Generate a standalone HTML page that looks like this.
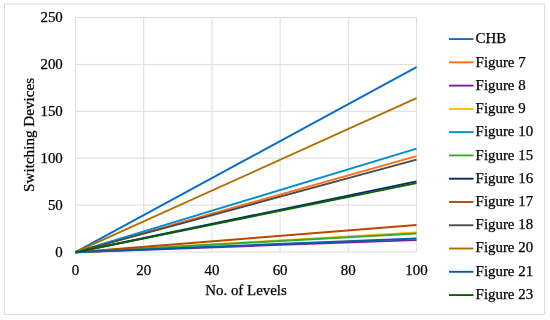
<!DOCTYPE html><html><head><meta charset="utf-8"><style>html,body{margin:0;padding:0;background:#fff;}svg{display:block;filter:blur(0.3px);}text{font-family:"Liberation Serif", "Times New Roman", serif;fill:#000;stroke:#000;stroke-width:0.25px;}</style></head><body>
<svg width="550" height="320" viewBox="0 0 550 320">
<rect x="0" y="0" width="550" height="320" fill="#fff"/>
<rect x="4.5" y="4.0" width="540" height="310.5" fill="none" stroke="#dcdcdc" stroke-width="1"/>
<line x1="75.50" y1="252.00" x2="416.50" y2="252.00" stroke="#dcdcdc" stroke-width="1"/>
<line x1="75.50" y1="205.10" x2="416.50" y2="205.10" stroke="#dcdcdc" stroke-width="1"/>
<line x1="75.50" y1="158.20" x2="416.50" y2="158.20" stroke="#dcdcdc" stroke-width="1"/>
<line x1="75.50" y1="111.30" x2="416.50" y2="111.30" stroke="#dcdcdc" stroke-width="1"/>
<line x1="75.50" y1="64.40" x2="416.50" y2="64.40" stroke="#dcdcdc" stroke-width="1"/>
<line x1="75.50" y1="17.50" x2="416.50" y2="17.50" stroke="#dcdcdc" stroke-width="1"/>
<line x1="75.50" y1="17.50" x2="75.50" y2="252.00" stroke="#dcdcdc" stroke-width="1"/>
<line x1="143.70" y1="17.50" x2="143.70" y2="252.00" stroke="#dcdcdc" stroke-width="1"/>
<line x1="211.90" y1="17.50" x2="211.90" y2="252.00" stroke="#dcdcdc" stroke-width="1"/>
<line x1="280.10" y1="17.50" x2="280.10" y2="252.00" stroke="#dcdcdc" stroke-width="1"/>
<line x1="348.30" y1="17.50" x2="348.30" y2="252.00" stroke="#dcdcdc" stroke-width="1"/>
<line x1="416.50" y1="17.50" x2="416.50" y2="252.00" stroke="#dcdcdc" stroke-width="1"/>
<text x="62.8" y="256.70" font-size="14.90" text-anchor="end">0</text>
<text x="62.8" y="209.80" font-size="14.90" text-anchor="end">50</text>
<text x="62.8" y="162.90" font-size="14.90" text-anchor="end">100</text>
<text x="62.8" y="116.00" font-size="14.90" text-anchor="end">150</text>
<text x="62.8" y="69.10" font-size="14.90" text-anchor="end">200</text>
<text x="62.8" y="22.20" font-size="14.90" text-anchor="end">250</text>
<text x="75.50" y="275.2" font-size="14.90" text-anchor="middle">0</text>
<text x="143.70" y="275.2" font-size="14.90" text-anchor="middle">20</text>
<text x="211.90" y="275.2" font-size="14.90" text-anchor="middle">40</text>
<text x="280.10" y="275.2" font-size="14.90" text-anchor="middle">60</text>
<text x="348.30" y="275.2" font-size="14.90" text-anchor="middle">80</text>
<text x="416.50" y="275.2" font-size="14.90" text-anchor="middle">100</text>
<text x="246" y="295.4" font-size="14.90" text-anchor="middle">No. of Levels</text>
<text transform="translate(33.8,134.9) rotate(-90)" font-size="15.15" text-anchor="middle">Switching Devices</text>
<line x1="75.50" y1="252.20" x2="416.50" y2="67.10" stroke="#0a6cc8" stroke-width="1.90"/>
<line x1="75.50" y1="252.20" x2="416.50" y2="156.10" stroke="#ff6d14" stroke-width="1.90"/>
<line x1="75.50" y1="252.20" x2="416.50" y2="240.10" stroke="#7a22a4" stroke-width="1.90"/>
<line x1="75.50" y1="252.20" x2="416.50" y2="232.50" stroke="#ffb900" stroke-width="1.90"/>
<line x1="75.50" y1="252.20" x2="416.50" y2="148.60" stroke="#008cd2" stroke-width="1.90"/>
<line x1="75.50" y1="252.20" x2="416.50" y2="233.50" stroke="#37aa32" stroke-width="1.90"/>
<line x1="75.50" y1="252.20" x2="416.50" y2="181.40" stroke="#002a6e" stroke-width="1.90"/>
<line x1="75.50" y1="252.20" x2="416.50" y2="225.00" stroke="#be4600" stroke-width="1.90"/>
<line x1="75.50" y1="252.20" x2="416.50" y2="159.70" stroke="#4b4b4b" stroke-width="1.90"/>
<line x1="75.50" y1="252.20" x2="416.50" y2="98.10" stroke="#b07000" stroke-width="1.90"/>
<line x1="75.50" y1="252.20" x2="416.50" y2="238.50" stroke="#005fa0" stroke-width="1.90"/>
<line x1="75.50" y1="252.20" x2="416.50" y2="183.10" stroke="#0a5f0a" stroke-width="1.90"/>
<line x1="449" y1="39.07" x2="473.5" y2="39.07" stroke="#0a6cc8" stroke-width="1.90"/>
<text x="475.6" y="43.47" font-size="14.90">CHB</text>
<line x1="449" y1="62.34" x2="473.5" y2="62.34" stroke="#ff6d14" stroke-width="1.90"/>
<text x="475.6" y="66.69" font-size="14.90">Figure 7</text>
<line x1="449" y1="85.61" x2="473.5" y2="85.61" stroke="#7a22a4" stroke-width="1.90"/>
<text x="475.6" y="89.92" font-size="14.90">Figure 8</text>
<line x1="449" y1="108.89" x2="473.5" y2="108.89" stroke="#ffb900" stroke-width="1.90"/>
<text x="475.6" y="113.14" font-size="14.90">Figure 9</text>
<line x1="449" y1="132.16" x2="473.5" y2="132.16" stroke="#008cd2" stroke-width="1.90"/>
<text x="475.6" y="136.37" font-size="14.90">Figure 10</text>
<line x1="449" y1="155.43" x2="473.5" y2="155.43" stroke="#37aa32" stroke-width="1.90"/>
<text x="475.6" y="159.59" font-size="14.90">Figure 15</text>
<line x1="449" y1="178.70" x2="473.5" y2="178.70" stroke="#002a6e" stroke-width="1.90"/>
<text x="475.6" y="182.81" font-size="14.90">Figure 16</text>
<line x1="449" y1="201.97" x2="473.5" y2="201.97" stroke="#be4600" stroke-width="1.90"/>
<text x="475.6" y="206.04" font-size="14.90">Figure 17</text>
<line x1="449" y1="225.25" x2="473.5" y2="225.25" stroke="#4b4b4b" stroke-width="1.90"/>
<text x="475.6" y="229.26" font-size="14.90">Figure 18</text>
<line x1="449" y1="248.52" x2="473.5" y2="248.52" stroke="#b07000" stroke-width="1.90"/>
<text x="475.6" y="252.49" font-size="14.90">Figure 20</text>
<line x1="449" y1="271.79" x2="473.5" y2="271.79" stroke="#005fa0" stroke-width="1.90"/>
<text x="475.6" y="275.71" font-size="14.90">Figure 21</text>
<line x1="449" y1="295.06" x2="473.5" y2="295.06" stroke="#0a5f0a" stroke-width="1.90"/>
<text x="475.6" y="298.93" font-size="14.90">Figure 23</text>
</svg></body></html>
